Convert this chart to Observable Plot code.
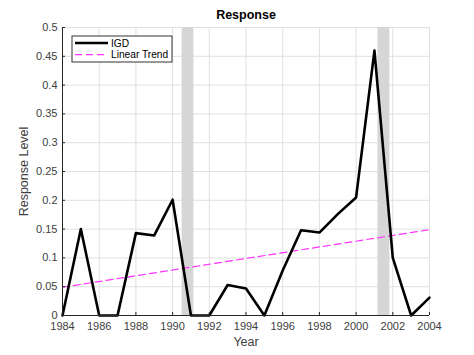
<!DOCTYPE html>
<html><head><meta charset="utf-8">
<script src="https://cdn.jsdelivr.net/npm/d3@7"></script>
<script src="https://cdn.jsdelivr.net/npm/@observablehq/plot@0.6"></script>
<style>body{margin:0;background:#fff}</style>
</head><body><div id="chart"></div>
<script>
const years = [1984,1985,1986,1987,1988,1989,1990,1991,1992,1993,1994,1995,1996,1997,1998,1999,2000,2001,2002,2003,2004];
const igd = [0,0.15,0,0,0.143,0.139,0.201,0,0,0.053,0.047,0,0.078,0.148,0.144,0.176,0.205,0.46,0.1,0,0.031];
const trendYears = [1984, 2004];
const trendValues = [0.049, 0.149];
const bandStart = [1990.52, 2001.19];
const bandEnd = [1991.16, 2001.84];
const xTicks = [1984,1986,1988,1990,1992,1994,1996,1998,2000,2002,2004];
const yTicks = [0,0.05,0.1,0.15,0.2,0.25,0.3,0.35,0.4,0.45,0.5];
const titleText = "Response";
const seriesNames = ["IGD", "Linear Trend"];

const series = years.map((y,i)=>({year:y, v:igd[i]}));
const trend = trendYears.map((y,i)=>({year:y, v:trendValues[i]}));
const bands = bandStart.map((s,i)=>({x1:s, x2:bandEnd[i]}));
const font = "'Liberation Sans', Arial, sans-serif";
const ink = "#262626";

const chart = Plot.plot({
  width: 474, height: 355,
  marginLeft: 62, marginRight: 45, marginTop: 27, marginBottom: 40,
  style: {fontFamily: font, fontSize: "11px", color: ink, background: "#fff"},
  x: {domain: [1984, 2004]},
  y: {domain: [0, 0.5]},
  marks: [
    Plot.ruleX(xTicks, {stroke: "#e0e0e0", strokeWidth: 1}),
    Plot.ruleY(yTicks, {stroke: "#e0e0e0", strokeWidth: 1}),
    Plot.rect(bands, {x1: "x1", x2: "x2", y1: 0, y2: 0.5, fill: "#d6d6d6"}),
    Plot.line(trend, {x: "year", y: "v", stroke: "#ff33ff", strokeWidth: 1.2, strokeDasharray: "7,4"}),
    Plot.line(series, {x: "year", y: "v", stroke: "#000", strokeWidth: 2.6}),
    Plot.ruleX(xTicks, {stroke: ink, insetTop: 285}),
    Plot.ruleY(yTicks, {stroke: ink, insetRight: 364}),
    Plot.axisX(xTicks, {tickSize: 0, tickPadding: 7, tickFormat: d => String(d), fontSize: 11, fill: "#404040",
      label: "Year", labelAnchor: "center", labelArrow: "none", labelOffset: 30}),
    Plot.axisY(yTicks, {tickSize: 0, tickPadding: 5, tickFormat: d => String(d), fontSize: 11, fill: "#404040",
      label: "Response Level", labelAnchor: "center", labelArrow: "none", labelOffset: 43}),
    Plot.ruleX([1984], {stroke: ink, strokeWidth: 1}),
    Plot.ruleY([0], {stroke: ink, strokeWidth: 1}),
    Plot.text([titleText], {frameAnchor: "top", dy: -13, fontWeight: "bold", fontSize: 12.5, fill: "#000", lineAnchor: "middle"})
  ]
});
document.getElementById("chart").append(chart);

d3.select(chart).selectAll("g[aria-label='x-axis label'] text, g[aria-label='y-axis label'] text")
  .style("font-size", "12.5px").attr("fill", "#404040");

// legend
const svg = d3.select(chart);
const lg = svg.append("g").attr("transform", "translate(72,36)");
lg.append("rect").attr("width", 100).attr("height", 26).attr("fill", "#fff").attr("stroke", "#333").attr("stroke-width", 1);
const entries = [
  {name: seriesNames[0], stroke: "#000", w: 2.6, dash: null},
  {name: seriesNames[1], stroke: "#ff33ff", w: 1.2, dash: "7,4"}
];
entries.forEach((e, i) => {
  const yy = 7 + i * 11.6;
  lg.append("line").attr("x1", 3).attr("x2", 36).attr("y1", yy).attr("y2", yy)
    .attr("stroke", e.stroke).attr("stroke-width", e.w).attr("stroke-dasharray", e.dash);
  lg.append("text").attr("x", 39).attr("y", yy).attr("dy", "0.35em").attr("text-anchor", "start")
    .attr("font-family", font).attr("font-size", 10.2).attr("fill", "#000").text(e.name);
});
</script></body></html>
